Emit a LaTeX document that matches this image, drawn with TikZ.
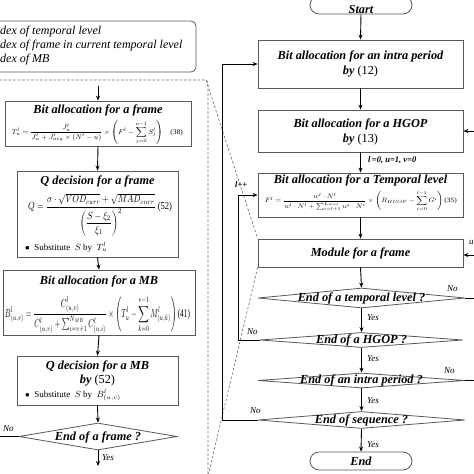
\documentclass[tikz,border=0pt]{standalone}
\usepackage{amsmath}
\usepackage{graphicx}
\usepackage{fontspec}
\setmainfont{Liberation Serif}
\usetikzlibrary{arrows.meta,shapes.geometric}
\tikzset{
  box/.style={draw=black!65, line width=0.8pt, rectangle, inner sep=0pt},
  term/.style={draw=black!65, line width=0.8pt, rectangle, rounded corners=9pt, inner sep=0pt},
  dia/.style={draw=black!65, line width=0.8pt, diamond, inner sep=0pt},
  ttl/.style={font=\fontsize{12.3}{14}\selectfont\bfseries\itshape, inner sep=0pt},
  lbl/.style={font=\fontsize{9}{10}\selectfont\itshape, inner sep=0pt},
  blbl/.style={font=\fontsize{8.5}{10}\selectfont\bfseries\itshape, inner sep=0pt},
  txt/.style={inner sep=0pt},
  arr/.style={-{Stealth[length=5pt,width=4pt]}, line width=0.9pt},
  ln/.style={line width=0.9pt},
  dsh/.style={dashed, draw=black!60, line width=0.6pt, dash pattern=on 2.5pt off 2pt}
}
\begin{document}
\begin{tikzpicture}[x=1pt,y=-1pt]
\useasboundingbox (0,0) rectangle (474,474);
\begin{scope}
\clip (0,0) rectangle (474,474);
\fill[white] (0,0) rectangle (474,474);
% legend
\node[box, rounded corners=5pt, minimum width=226pt, minimum height=51pt] (leg) at (83,46.5) {};
\node[txt, anchor=west, font=\fontsize{12}{13}\selectfont\itshape] (lg1) at (0,32) {dex of temporal level};
\node[txt, anchor=west, font=\fontsize{12}{13}\selectfont\itshape] (lg2) at (0,46) {dex of frame in current temporal level};
\node[txt, anchor=west, font=\fontsize{12}{13}\selectfont\itshape] (lg3) at (0,60) {dex of MB};
% dashed zoom outline
\coordinate (dend) at (208,476);
% left panel
\coordinate (lin) at (98,86);
\node[box, minimum width=186pt, minimum height=45pt] (L1) at (98,123.5) {};
\node[ttl] (L1t) at (98,110) {Bit allocation for a frame};
\node[txt] (L1f) at (97.5,132.5) {\resizebox*{171pt}{25pt}{$\displaystyle T_u^l=\frac{J_u^l}{J_u^l+J_{avg}^l\times\left(N^l-u\right)}\times\left(F^l-\sum_{j=0}^{u-1}S_j^l\right)$\quad(38)}};
\node[box, minimum width=161pt, minimum height=86pt] (L2) at (97.5,214) {};
\node[ttl] (L2t) at (97.5,181) {Q decision for a frame};
\node[txt] (L2f) at (100,215) {\resizebox*{144pt}{42pt}{$\displaystyle Q=\frac{\sigma\cdot\sqrt{VOD_{curr}}+\sqrt{MAD_{curr}}}{\left(\dfrac{S-\xi_2}{\xi_1}\right)^{2}}$\ (52)}};
\node[txt, anchor=west, font=\fontsize{9}{10}\selectfont] (L2b) at (25,247) {$\bullet$\ \ Substitute\ \ $S$\ by\ \ $T_u^l$};
\node[box, minimum width=192pt, minimum height=65pt] (L3) at (99,302.5) {};
\node[ttl] (L3t) at (99,281) {Bit allocation for a MB};
\node[txt] (L3f) at (97.5,315) {\resizebox*{185pt}{37pt}{$\displaystyle B_{(u,v)}^l=\frac{C_{(u,v)}^l}{C_{(u,v)}^l+\sum_{i=v+1}^{N_{MB}}C_{(u,i)}^l}\times\left(T_u^l-\sum_{k=0}^{v-1}M_{(u,k)}^l\right)$\,(41)}};
\node[box, minimum width=161pt, minimum height=49pt] (L4) at (97.5,380.5) {};
\node[ttl] (L4t) at (97.5,366) {Q decision for a MB};
\node[txt] (L4u) at (97.5,381) {\fontsize{12.3}{14}\selectfont\bfseries\itshape by \mdseries\upshape(52)};
\node[txt, anchor=west, font=\fontsize{9}{10}\selectfont] (L4b) at (25,395) {$\bullet$\ \ Substitute\ \ $S$\ by\ \ $B_{(u,v)}^l$};
\node[dia, minimum width=158pt, minimum height=27pt] (L5) at (98,436.5) {};
\node[ttl] (L5t) at (98,437) {End of a frame ?};
\coordinate (lno) at (-5,436.5);
\coordinate (lout) at (98,466);
\node[lbl, anchor=west] (lnoT) at (3,429) {No};
\node[lbl, anchor=west] (lyesT) at (102,458) {Yes};
% right panel
\node[term, minimum width=102pt, minimum height=18pt] (S) at (361,5) {};
\node[ttl] (St) at (361,9) {Start};
\node[box, minimum width=205pt, minimum height=48pt] (R1) at (360.5,64) {};
\node[ttl] (R1t) at (360.5,56) {Bit allocation for an intra period};
\node[txt] (R1u) at (360.5,72) {\fontsize{12.3}{14}\selectfont\bfseries\itshape by \mdseries\upshape(12)};
\node[box, minimum width=205pt, minimum height=42pt] (R2) at (360.5,131) {};
\node[ttl] (R2t) at (360.5,124) {Bit allocation for a HGOP};
\node[txt] (R2u) at (360.5,140) {\fontsize{12.3}{14}\selectfont\bfseries\itshape by \mdseries\upshape(13)};
\node[blbl, anchor=west] (init) at (368,160) {l\,=0, u=1, v=0};
\node[box, minimum width=205pt, minimum height=44pt] (R3) at (360.5,195) {};
\node[ttl] (R3t) at (360.5,180) {Bit allocation for a Temporal level};
\node[txt] (R3f) at (361,201) {\resizebox*{192pt}{20pt}{$\displaystyle F^l=\frac{w^l\cdot N^l}{w^l\cdot N^l+\sum_{i=l+1}^{L_{max}}w^i\cdot N^i}\times\left(R_{HGOP}-\sum_{i=0}^{l-1}G^i\right)$\,(35)}};
\node[box, minimum width=205pt, minimum height=28pt] (R4) at (360.5,253) {};
\node[ttl] (R4t) at (360.5,253) {Module for a frame};
\node[dia, minimum width=207pt, minimum height=20pt] (D1) at (361.5,298) {};
\node[ttl] (D1t) at (361.5,298) {End of a temporal level ?};
\node[dia, minimum width=203pt, minimum height=15pt] (D2) at (361.5,340) {};
\node[ttl] (D2t) at (361.5,340) {End of a HGOP ?};
\node[dia, minimum width=207pt, minimum height=15pt] (D3) at (361.5,380.5) {};
\node[ttl] (D3t) at (361.5,380.5) {End of an intra period ?};
\node[dia, minimum width=207pt, minimum height=17pt] (D4) at (361.5,420) {};
\node[ttl] (D4t) at (361.5,420) {End of sequence ?};
\node[term, minimum width=102pt, minimum height=18pt] (E) at (361,461) {};
\node[ttl] (Et) at (361,461) {End};
% labels
\node[lbl, anchor=west] (y1) at (367,318) {Yes};
\node[lbl, anchor=west] (y2) at (367,359) {Yes};
\node[lbl, anchor=west] (y3) at (367,401) {Yes};
\node[lbl, anchor=west] (y4) at (367,445) {Yes};
\node[lbl, anchor=west] (n1) at (447,289) {No};
\node[lbl, anchor=west] (n2) at (247,332) {No};
\node[lbl, anchor=west] (n3) at (444,371) {No};
\node[lbl, anchor=west] (n4) at (250,411) {No};
\node[blbl, anchor=west] (lpp) at (235,185) {l++};
\node[lbl, anchor=west] (upp) at (469,242) {u};
% outside coordinates
\coordinate (c1) at (222,420);
\coordinate (c2) at (222,64);
\coordinate (c3) at (238,340);
\coordinate (c4) at (238,195);
\coordinate (o1) at (480,131);
\coordinate (o2) at (480,255);
\coordinate (o3) at (480,298);
\coordinate (o4) at (480,380.5);
% dashed outline
\draw[dsh, rounded corners=3pt] (-5,80) -- (208,80) -- (dend);
\draw[dsh] (206,80) -- (R4.north west);
\draw[dsh] (R4.south west) -- (dend);
% left arrows
\draw[arr] (lin) -- (L1.north);
\draw[arr] (L1.south) -- (L2.north);
\draw[arr] (L2.south) -- (L3.north);
\draw[arr] (L3.south) -- (L4.north);
\draw[arr] (L4.south) -- (L5.north);
\draw[arr] (L5.south) -- (lout);
\draw[ln] (L5.west) -- (lno);
% right arrows
\draw[arr] (S.south) -- (R1.north);
\draw[arr] (R1.south) -- (R2.north);
\draw[arr] (R2.south) -- (R3.north);
\draw[arr] (R3.south) -- (R4.north);
\draw[arr] (R4.south) -- (D1.north);
\draw[arr] (D1.south) -- (D2.north);
\draw[arr] (D2.south) -- (D3.north);
\draw[arr] (D3.south) -- (D4.north);
\draw[arr] (D4.south) -- (E.north);
\draw[arr] (D4.west) -- (c1) -- (c2) -- (R1.west);
\draw[arr] (D2.west) -- (c3) -- (c4) -- (R3.west);
\draw[arr] (o1) -- (R2.east);
\draw[arr] (o2) -- (R4.east |- o2);
\draw[ln] (D1.east) -- (o3);
\draw[ln] (D3.east) -- (o4);
\end{scope}
\end{tikzpicture}
\end{document}
